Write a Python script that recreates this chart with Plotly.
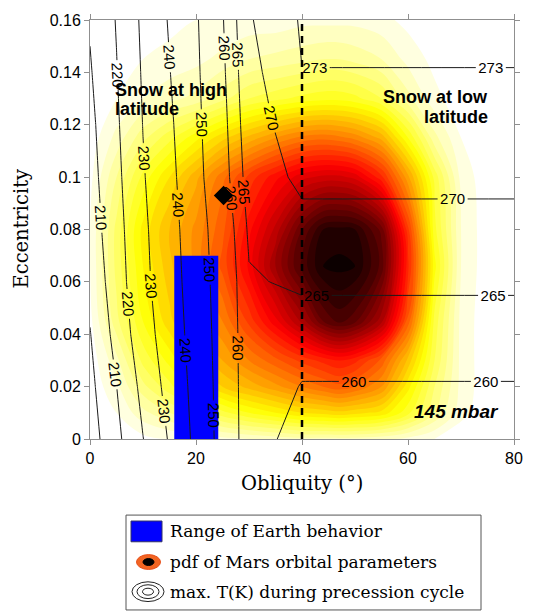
import plotly.graph_objects as go

# ---------------- data ----------------
# max. surface temperature (K) during precession cycle
obliquity_T = [0, 5, 10, 15, 20, 25, 30, 40, 80]
eccentricity_T = [0, 0.02, 0.04, 0.06, 0.08, 0.10, 0.12, 0.14, 0.16]
max_T = [
    [195.4, 207.6, 219.8, 230.9, 242.4, 253.5, 264.0, 256.5, 256.5],
    [197.5, 209.9, 222.7, 233.3, 243.0, 253.8, 264.1, 259.7, 259.7],
    [199.6, 213.3, 225.8, 234.9, 243.8, 254.2, 264.2, 262.7, 262.7],
    [202.6, 215.4, 227.6, 235.9, 244.6, 254.7, 264.5, 265.8, 265.8],
    [204.9, 216.5, 228.3, 236.5, 245.5, 255.5, 265.8, 268.6, 268.6],
    [206.4, 217.7, 229.3, 237.5, 246.9, 257.4, 267.2, 271.0, 271.0],
    [207.6, 218.7, 230.2, 238.5, 247.7, 258.1, 268.2, 272.2, 272.2],
    [209.2, 219.6, 231.0, 239.7, 248.4, 258.9, 269.0, 272.97, 272.97],
    [210.8, 220.5, 231.8, 240.8, 249.0, 259.6, 269.7, 273.3, 273.3],
]
# contour levels drawn: 200..260 by 10, then 265, 270, 273
T_levels_cold = [200, 210, 220, 230, 240, 250, 260]
T_levels_warm = [265, 270]
T_levels_melt = [273]

# pdf of Mars orbital parameters (normalised)
obliquity_pdf = [0, 5, 10, 15, 20, 25, 30, 35, 40, 44, 47, 50, 55, 60, 65, 70, 75, 80]
eccentricity_pdf = [0, 0.01, 0.02, 0.03, 0.045, 0.066, 0.08, 0.10, 0.115, 0.13, 0.145, 0.16]
pdf = [
    [0.00, 0.01, 0.02, 0.03, 0.04, 0.05, 0.06, 0.07, 0.08, 0.08, 0.08, 0.08, 0.07, 0.05, 0.03, 0.01, 0.00, 0.00],
    [0.00, 0.03, 0.08, 0.12, 0.15, 0.20, 0.24, 0.27, 0.30, 0.31, 0.32, 0.31, 0.29, 0.22, 0.12, 0.04, 0.01, 0.00],
    [0.01, 0.05, 0.14, 0.20, 0.26, 0.33, 0.37, 0.41, 0.45, 0.48, 0.50, 0.48, 0.42, 0.28, 0.15, 0.05, 0.01, 0.00],
    [0.01, 0.08, 0.19, 0.25, 0.32, 0.39, 0.45, 0.50, 0.55, 0.58, 0.60, 0.58, 0.50, 0.35, 0.18, 0.05, 0.01, 0.00],
    [0.02, 0.14, 0.24, 0.32, 0.39, 0.45, 0.55, 0.65, 0.76, 0.87, 0.91, 0.88, 0.76, 0.50, 0.20, 0.05, 0.01, 0.00],
    [0.03, 0.16, 0.27, 0.35, 0.43, 0.52, 0.64, 0.78, 0.91, 0.99, 1.00, 0.99, 0.89, 0.58, 0.25, 0.06, 0.01, 0.00],
    [0.03, 0.16, 0.28, 0.36, 0.43, 0.50, 0.62, 0.73, 0.87, 0.96, 0.97, 0.96, 0.86, 0.55, 0.22, 0.06, 0.01, 0.00],
    [0.02, 0.12, 0.22, 0.30, 0.38, 0.47, 0.55, 0.62, 0.68, 0.70, 0.70, 0.68, 0.58, 0.40, 0.20, 0.05, 0.01, 0.00],
    [0.01, 0.07, 0.14, 0.20, 0.26, 0.32, 0.37, 0.42, 0.46, 0.47, 0.46, 0.44, 0.38, 0.24, 0.10, 0.03, 0.00, 0.00],
    [0.00, 0.03, 0.06, 0.08, 0.10, 0.14, 0.18, 0.20, 0.22, 0.23, 0.23, 0.22, 0.18, 0.10, 0.04, 0.01, 0.00, 0.00],
    [0.00, 0.01, 0.03, 0.04, 0.05, 0.07, 0.09, 0.10, 0.11, 0.12, 0.12, 0.11, 0.09, 0.05, 0.02, 0.00, 0.00, 0.00],
    [0.00, 0.00, 0.01, 0.02, 0.03, 0.03, 0.04, 0.04, 0.05, 0.05, 0.05, 0.05, 0.04, 0.02, 0.01, 0.00, 0.00, 0.00],
]

earth_obliquity = [15.9, 24.2]
earth_eccentricity = [0, 0.07]
mars_obliquity = [25.2]
mars_eccentricity = [0.093]
regime_obliquity = [40, 40]
regime_eccentricity = [0, 0.16]

x_ticks = [0, 20, 40, 60, 80]
x_ticktext = ["0", "20", "40", "60", "80"]
y_ticks = [0, 0.02, 0.04, 0.06, 0.08, 0.10, 0.12, 0.14, 0.16]
y_ticktext = ["0", "0.02", "0.04", "0.06", "0.08", "0.1", "0.12", "0.14", "0.16"]

legend_labels = ["Range of Earth behavior", "pdf of Mars orbital parameters",
                 "max. T(K) during precession cycle"]

# ---------------- figure ----------------
W, H = 537, 616
L, R, T, B = 90, 23, 15, 177
PW, PH = W - L - R, H - T - B


def px_x(p):
    return (p - L) / PW


def px_y(p):
    return (H - B - p) / PH


hot_r = [[0.0, "rgb(255,255,255)"], [0.25, "rgb(255,255,0)"],
         [0.44, "rgb(255,128,0)"], [0.625, "rgb(255,0,0)"],
         [1.0, "rgb(12,0,0)"]]

fig = go.Figure()

fig.add_trace(go.Contour(
    x=obliquity_pdf, y=eccentricity_pdf, z=pdf,
    colorscale=hot_r, zmin=0, zmax=1, showscale=False,
    autocontour=False,
    contours=dict(start=0.03, end=0.99, size=0.03, coloring="fill", showlines=False),
    line=dict(width=0, smoothing=1.0),
    hoverinfo="skip",
))

fig.add_trace(go.Bar(
    x=[(earth_obliquity[0] + earth_obliquity[1]) / 2],
    y=[earth_eccentricity[1] - earth_eccentricity[0]],
    base=[earth_eccentricity[0]],
    width=[earth_obliquity[1] - earth_obliquity[0]],
    marker=dict(color="rgb(0,0,255)", line=dict(width=0)),
    showlegend=False,
))

# Contour label density in plotly depends on the number of levels of a trace;
# pad each trace's level range with empty levels outside the data range.
line_scale = [[0, "#1a1a1a"], [1, "#1a1a1a"]]
level_sets = [
    (T_levels_cold[0] - 10 * 80, T_levels_cold[-1], 10),
    (T_levels_warm[0], T_levels_warm[-1] + 5 * 80, 5),
    (T_levels_melt[0], T_levels_melt[0] + 5 * 80, 5),
]
for start, end, size in level_sets:
    fig.add_trace(go.Contour(
        x=obliquity_T, y=eccentricity_T, z=max_T,
        xaxis="x2", yaxis="y2",
        autocontour=False,
        contours=dict(start=start, end=end, size=size, coloring="lines",
                      showlabels=True,
                      labelfont=dict(family="Liberation Sans, Arial", size=15, color="black")),
        colorscale=line_scale, showscale=False,
        line=dict(width=1, smoothing=0),
        hoverinfo="skip",
    ))

fig.add_trace(go.Scatter(
    x=regime_obliquity, y=regime_eccentricity, xaxis="x2", yaxis="y2",
    mode="lines", line=dict(color="black", width=2.5, dash="7px,5px"),
    showlegend=False, hoverinfo="skip",
))

fig.add_trace(go.Scatter(
    x=mars_obliquity, y=mars_eccentricity, xaxis="x2", yaxis="y2",
    mode="markers", marker=dict(symbol="diamond", size=15, color="black"),
    showlegend=False,
))

axis_common = dict(showline=True, linecolor="#8f8f8f", linewidth=1, mirror="ticks",
                   ticks="outside", ticklen=5, tickcolor="#8f8f8f",
                   showgrid=False, zeroline=False,
                   tickfont=dict(family="Liberation Sans, Arial", size=16, color="black"))

fig.update_layout(
    width=W, height=H,
    margin=dict(l=L, r=R, t=T, b=B),
    paper_bgcolor="white", plot_bgcolor="white",
    showlegend=False,
    xaxis=dict(range=[0, 80], tickvals=x_ticks, ticktext=x_ticktext, **axis_common),
    yaxis=dict(range=[0, 0.16], tickvals=y_ticks, ticktext=y_ticktext, **axis_common),
    xaxis2=dict(range=[0, 80], overlaying="x", visible=False),
    yaxis2=dict(range=[0, 0.16], overlaying="y", visible=False),
)

annots = []
bold = dict(family="Liberation Sans, Arial", size=18, color="black")
annots.append(dict(text="<b>Snow at high</b>", x=px_x(113), y=px_y(85.5), xanchor="left",
                   yanchor="middle", font=bold))
annots.append(dict(text="<b>latitude</b>", x=px_x(113), y=px_y(105), xanchor="left",
                   yanchor="middle", font=bold))
annots.append(dict(text="<b>Snow at low</b>", x=px_x(490), y=px_y(92.5), xanchor="right",
                   yanchor="middle", font=bold))
annots.append(dict(text="<b>latitude</b>", x=px_x(490), y=px_y(113), xanchor="right",
                   yanchor="middle", font=bold))
annots.append(dict(text="<b><i>145 mbar</i></b>", x=px_x(501), y=px_y(411), xanchor="right",
                   yanchor="middle", font=dict(family="Liberation Sans, Arial", size=19, color="black")))

serif_title = dict(family="DejaVu Serif", size=19.5, color="black")
annots.append(dict(text="Obliquity (°)", x=px_x(302), y=px_y(484), xanchor="center",
                   yanchor="middle", font=serif_title))
annots.append(dict(text="Eccentricity", x=px_x(22), y=px_y(226), xanchor="center",
                   yanchor="middle", textangle=-90, font=serif_title))

serif_leg = dict(family="DejaVu Serif", size=17, color="black")
for lab, yc in zip(legend_labels, [532, 563, 593.5]):
    annots.append(dict(text=lab, x=px_x(168), y=px_y(yc), xanchor="left",
                       yanchor="middle", font=serif_leg))

for a in annots:
    a.update(xref="paper", yref="paper", showarrow=False)
fig.update_layout(annotations=annots)

shapes = []
shapes.append(dict(type="rect", x0=px_x(126), x1=px_x(481), y0=px_y(516), y1=px_y(612),
                   line=dict(color="#555555", width=1), fillcolor="white"))
shapes.append(dict(type="rect", x0=px_x(131), x1=px_x(162), y0=px_y(522), y1=px_y(543),
                   line=dict(color="#333366", width=1), fillcolor="rgb(0,0,255)"))
cx, cy = 148.5, 563.5
shapes.append(dict(type="circle", x0=px_x(cx - 12), x1=px_x(cx + 12), y0=px_y(cy - 7.5),
                   y1=px_y(cy + 7.5), line=dict(color="#e8501c", width=1), fillcolor="#f26522"))
shapes.append(dict(type="circle", x0=px_x(cx - 5.5), x1=px_x(cx + 5.5), y0=px_y(cy - 3.5),
                   y1=px_y(cy + 3.5), line=dict(color="black", width=1), fillcolor="black"))
cx, cy = 148, 593.5
for rx, ry in [(16, 10), (11, 7), (5.5, 3.5)]:
    shapes.append(dict(type="circle", x0=px_x(cx - rx), x1=px_x(cx + rx), y0=px_y(cy - ry),
                       y1=px_y(cy + ry), line=dict(color="#222222", width=1)))
for s in shapes:
    s.update(xref="paper", yref="paper")
fig.update_layout(shapes=shapes)

fig.write_html("out.html")
